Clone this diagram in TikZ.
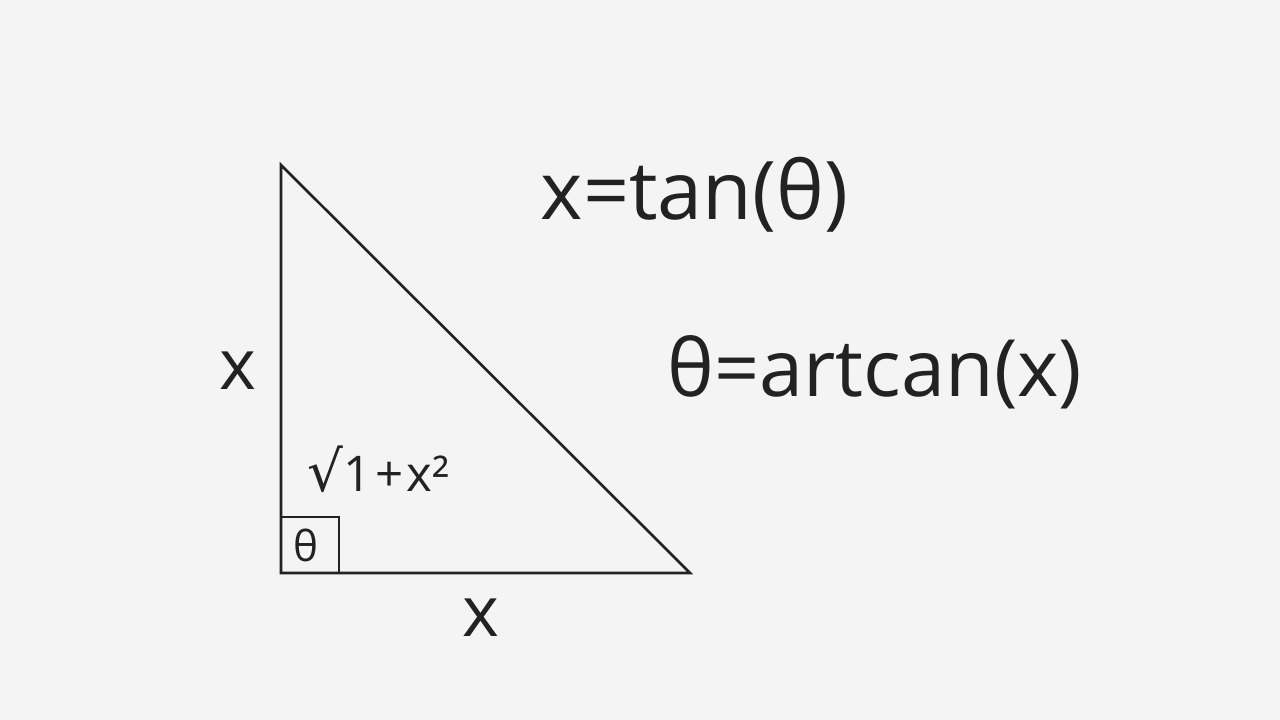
\documentclass[tikz,border=0pt]{standalone}
\usepackage{fontspec}
\setmainfont{Open Sans}
\newfontfamily\radicalfont{DejaVu Sans}
\usetikzlibrary{positioning}

\definecolor{inkgray}{HTML}{222222}
\definecolor{paper}{HTML}{F4F4F4}

\begin{document}
\begin{tikzpicture}[
		side/.style={draw=inkgray, line width=0.75pt},
		lbl/.style={inner sep=0pt, text=inkgray}
	]
		\fill[paper, use as bounding box] (0,0) rectangle (12.8,7.2);

		% Triangle corners.
		\coordinate (top) at (2.81,5.55);
		\coordinate (corner) at (2.81,1.47);
		\coordinate (right) at (6.90,1.47);

		% Triangle sides.
		\draw[side] (top) -- (corner) -- (right) -- cycle;

		% Right angle box.
		\draw[side] (2.81,2.03) rectangle (3.39,1.47);

		% Labels on the triangle.
		\node[lbl, anchor=base, font=\fontsize{12}{14}\selectfont] (angle) at (3.06,1.58) {θ};
		\node[lbl, anchor=base, font=\fontsize{20}{24}\selectfont] (leftx) at (2.38,3.30) {x};
		\node[lbl, anchor=base, font=\fontsize{20}{24}\selectfont] (bottomx) at (4.81,0.83) {x};
		\node[lbl, anchor=base west, font=\fontsize{14}{18}\selectfont] (hyp) at (3.07,2.28) {{\radicalfont\fontsize{16}{18}\selectfont √}1\kern1pt+\kern1pt x²};

		% Equations.
		\node[lbl, anchor=base west, font=\fontsize{23}{28}\selectfont] (tanEq) at (5.40,5.00) {x=tan(θ)};
		\node[lbl, anchor=base west, font=\fontsize{22.5}{28}\selectfont] (arcEq) at (6.67,3.23) {θ=artcan(x)};

	\end{tikzpicture}
\end{document}
